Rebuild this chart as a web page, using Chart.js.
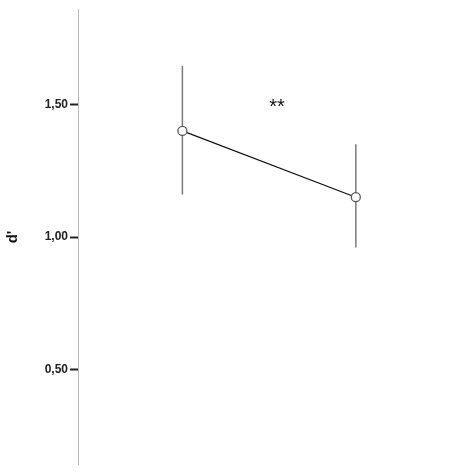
<!DOCTYPE html>
<html>
<head>
<meta charset="utf-8">
<script src="https://cdn.jsdelivr.net/npm/chart.js@4"></script>
<style>
  html, body { margin: 0; padding: 0; background: #fff; }
  #wrap { width: 474px; height: 474px; }
</style>
</head>
<body>
<div id="wrap"><canvas id="chart"></canvas></div>
<script>
const conditions = [1, 2];
const means = [1.40, 1.15];
const lower = [1.16, 0.96];
const upper = [1.645, 1.35];
const yTicks = [0.5, 1.0, 1.5];

// draws the vertical error bars and the significance stars
const errorBars = {
    id: "errorBars",
    beforeDatasetsDraw(chart) {
        const { ctx, scales: { x, y } } = chart;
        ctx.save();
        ctx.strokeStyle = "#7a7a7a";
        ctx.lineWidth = 1.5;
        conditions.forEach((c, i) => {
            const px = x.getPixelForValue(c);
            ctx.beginPath();
            ctx.moveTo(px, y.getPixelForValue(lower[i]));
            ctx.lineTo(px, y.getPixelForValue(upper[i]));
            ctx.stroke();
        });
        ctx.fillStyle = "#111";
        ctx.font = "20px 'Liberation Sans', Arial";
        ctx.textAlign = "center";
        ctx.textBaseline = "middle";
        ctx.fillText("**", x.getPixelForValue(1.545), y.getPixelForValue(1.49));
        ctx.restore();
    },
};

new Chart(document.getElementById("chart"), {
    type: "line",
    data: {
        datasets: [{
            data: conditions.map((c, i) => ({ x: c, y: means[i] })),
            borderColor: "#111",
            borderWidth: 1.2,
            pointBackgroundColor: "#fff",
            pointBorderColor: "#555",
            pointBorderWidth: 1.3,
            pointRadius: 4.5,
        }],
    },
    options: {
        responsive: true,
        maintainAspectRatio: false,
        animation: false,
        layout: { padding: 0 },
        plugins: {
            legend: { display: false },
            tooltip: { enabled: false },
        },
        scales: {
            x: {
                type: "linear",
                display: false,
                min: 0.398,
                max: 2.648,
            },
            y: {
                min: 0.141,
                max: 1.859,
                afterBuildTicks: (s) => { s.ticks = yTicks.map((v) => ({ value: v })); },
                afterFit: (s) => { s.width = 78; },
                border: { color: "#bbb", width: 1 },
                grid: {
                    drawOnChartArea: false,
                    tickLength: 8,
                    tickColor: "#222",
                    tickWidth: 2,
                },
                ticks: {
                    color: "#222",
                    padding: 2,
                    font: { family: "'Liberation Sans', Arial", size: 12, weight: "bold" },
                    callback: (v) => v.toFixed(2).replace(".", ","),
                },
                title: {
                    display: true,
                    text: "d'",
                    color: "#111",
                    padding: { bottom: 12 },
                    font: { family: "'Liberation Sans', Arial", size: 15, weight: "bold" },
                },
            },
        },
    },
    plugins: [errorBars],
});
</script>
</body>
</html>
